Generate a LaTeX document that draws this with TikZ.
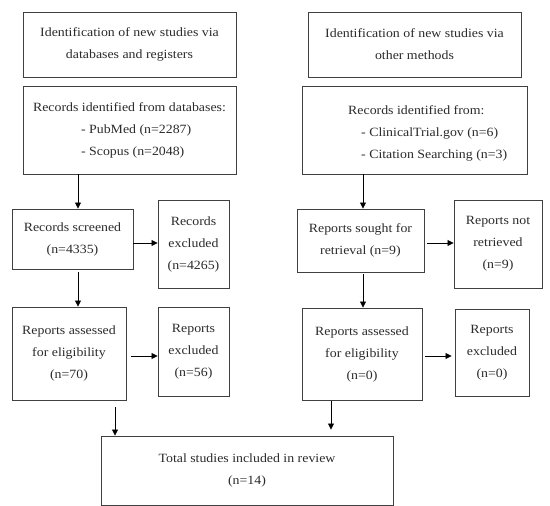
\documentclass[tikz,border=0pt]{standalone}
\usepackage{fontspec}
\setmainfont{Liberation Serif}[FakeStretch=1.1]
\usetikzlibrary{arrows.meta,calc}
\definecolor{ln}{HTML}{404040}
\definecolor{tx}{HTML}{2A2A2A}
\tikzset{
  box/.style={draw=ln, line width=0.9pt, inner sep=0pt, align=center, text=tx,
    font=\fontsize{12.6}{22}\selectfont, execute at begin node=\rule{0pt}{16pt}},
  lbl/.style={inner sep=0pt, align=left, text=tx, font=\fontsize{12.6}{22}\selectfont},
  arr/.style={draw=black, line width=0.8pt, -{Triangle[length=6pt,width=6pt]}}
}
\begin{document}
\begin{tikzpicture}[x=1pt,y=-1pt]
\useasboundingbox (0,0) rectangle (550,506);
% left column
\node[box, minimum width=213pt, minimum height=65pt] (t1) at (129.5,44.5)
  {Identification of new studies via\\databases and registers};
\node[box, minimum width=213pt, minimum height=88pt, align=left] (r1) at (129.5,130)
  {Records identified from databases:\\\hspace*{48pt}- PubMed (n=2287)\\\hspace*{48pt}- Scopus (n=2048)};
\node[box, minimum width=121pt, minimum height=60pt] (scr) at (72.5,239)
  {Records screened\\(n=4335)};
\node[box, minimum width=71pt, minimum height=88pt] (exc1) at (193.5,244)
  {Records\\excluded\\(n=4265)};
\node[box, minimum width=114pt, minimum height=93pt] (ass1) at (69,353.5)
  {Reports assessed\\for eligibility\\(n=70)};
\node[box, minimum width=71pt, minimum height=89pt] (exc2) at (193.5,351.5)
  {Reports\\excluded\\(n=56)};
% right column
\node[box, minimum width=213pt, minimum height=65pt] (t2) at (414.5,44.5)
  {Identification of new studies via\\other methods};
\node[box, minimum width=225pt, minimum height=88pt, execute at begin node={}] (r2) at (414.5,130) {};
\node[lbl, anchor=west] (r2t) at (348,133)
  {Records identified from:\\\hspace*{13pt}- ClinicalTrial.gov (n=6)\\\hspace*{13pt}- Citation Searching (n=3)};
\node[box, minimum width=127pt, minimum height=63pt] (sou) at (360.5,240.5)
  {Reports sought for\\retrieval (n=9)};
\node[box, minimum width=88pt, minimum height=88pt] (nret) at (498,244)
  {Reports not\\retrieved\\(n=9)};
\node[box, minimum width=120pt, minimum height=92pt] (ass2) at (362,354)
  {Reports assessed\\for eligibility\\(n=0)};
\node[box, minimum width=74pt, minimum height=87pt] (exc3) at (492,352.5)
  {Reports\\excluded\\(n=0)};
% total
\node[box, minimum width=292pt, minimum height=69pt] (tot) at (247,470.5)
  {Total studies included in review\\(n=14)};
% connectors
\coordinate (xl) at (78,0);
\coordinate (xr) at (363,0);
\coordinate (xl2) at (115,0);
\coordinate (xr2) at (331,0);
\coordinate (ya) at (0,243);
\coordinate (yb) at (0,356);
\draw[arr] (r1.south -| xl) -- (scr.north -| xl);
\draw[arr] (scr.east |- ya) -- (exc1.west |- ya);
\draw[arr, shorten <=3pt] (scr.south -| xl) -- (ass1.north -| xl);
\draw[arr, shorten <=5pt] (ass1.east |- yb) -- (exc2.west |- yb);
\draw[arr, shorten <=7pt] (ass1.south -| xl2) -- (tot.north -| xl2);
\draw[arr] (r2.south -| xr) -- (sou.north -| xr);
\draw[arr, shorten <=3pt] (sou.east |- ya) -- (nret.west |- ya);
\draw[arr, shorten <=2pt] (sou.south -| xr) -- (ass2.north -| xr);
\draw[arr, shorten <=3pt, shorten >=3pt] (ass2.east |- yb) -- (exc3.west |- yb);
\draw[arr, shorten <=1pt, shorten >=6pt] (ass2.south -| xr2) -- (tot.north -| xr2);
\end{tikzpicture}
\end{document}
